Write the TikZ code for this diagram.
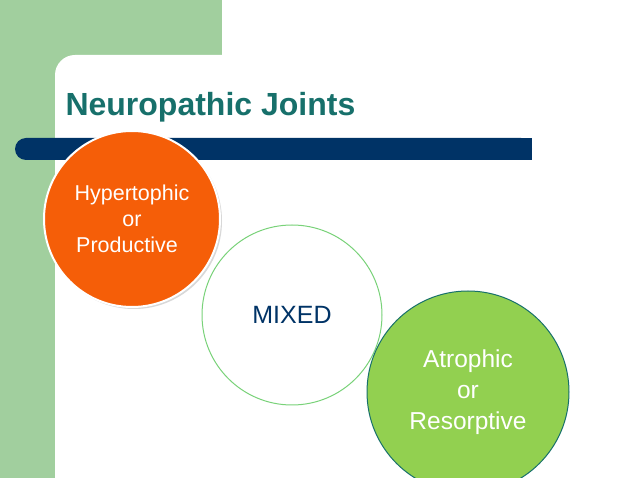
\documentclass[tikz,border=0pt]{standalone}
\usepackage{fontspec}
\setmainfont{Liberation Sans}
\usetikzlibrary{shadows}
\definecolor{bggreen}{HTML}{A1CF9E}
\definecolor{barblue}{HTML}{003366}
\definecolor{teal}{HTML}{17706B}
\definecolor{orng}{HTML}{F55E08}
\definecolor{lgreen}{HTML}{92D050}
\begin{document}
\begin{tikzpicture}[x=1pt,y=-1pt,
  circ/.style={circle,inner sep=0pt,align=center}]
\useasboundingbox (0,0) rectangle (638,478);
\fill[bggreen] (0,0) rectangle (222,478);
\fill[white,rounded corners=20] (55,55) rectangle (700,540);
\fill[white] (222,0) rectangle (638,60);
\fill[barblue,rounded corners=11] (15,138) rectangle (532,160);
\fill[barblue] (500,138) rectangle (532,160);
\node[anchor=west,text=teal,font=\bfseries\fontsize{32}{38}\selectfont] (title) at (62,107) {Neuropathic Joints};
\node[circ,minimum size=176,fill=orng,draw=white,line width=2pt,drop shadow={shadow xshift=2pt,shadow yshift=-2pt,fill=gray!60},text=white,font=\fontsize{21.5}{26}\selectfont] (h) at (132,219) {Hypertophic\\or\\Productive\hspace*{10pt}};
\node[circ,minimum size=180,fill=white,draw=green!50!gray!70,line width=1pt,text=barblue,font=\fontsize{25}{30}\selectfont] (m) at (292,315) {MIXED};
\node[circ,minimum size=202,fill=lgreen,draw=teal,line width=1pt,text=white,font=\fontsize{24.5}{31}\selectfont] (a) at (468,392) {Atrophic\\or\\Resorptive};
\end{tikzpicture}
\end{document}
